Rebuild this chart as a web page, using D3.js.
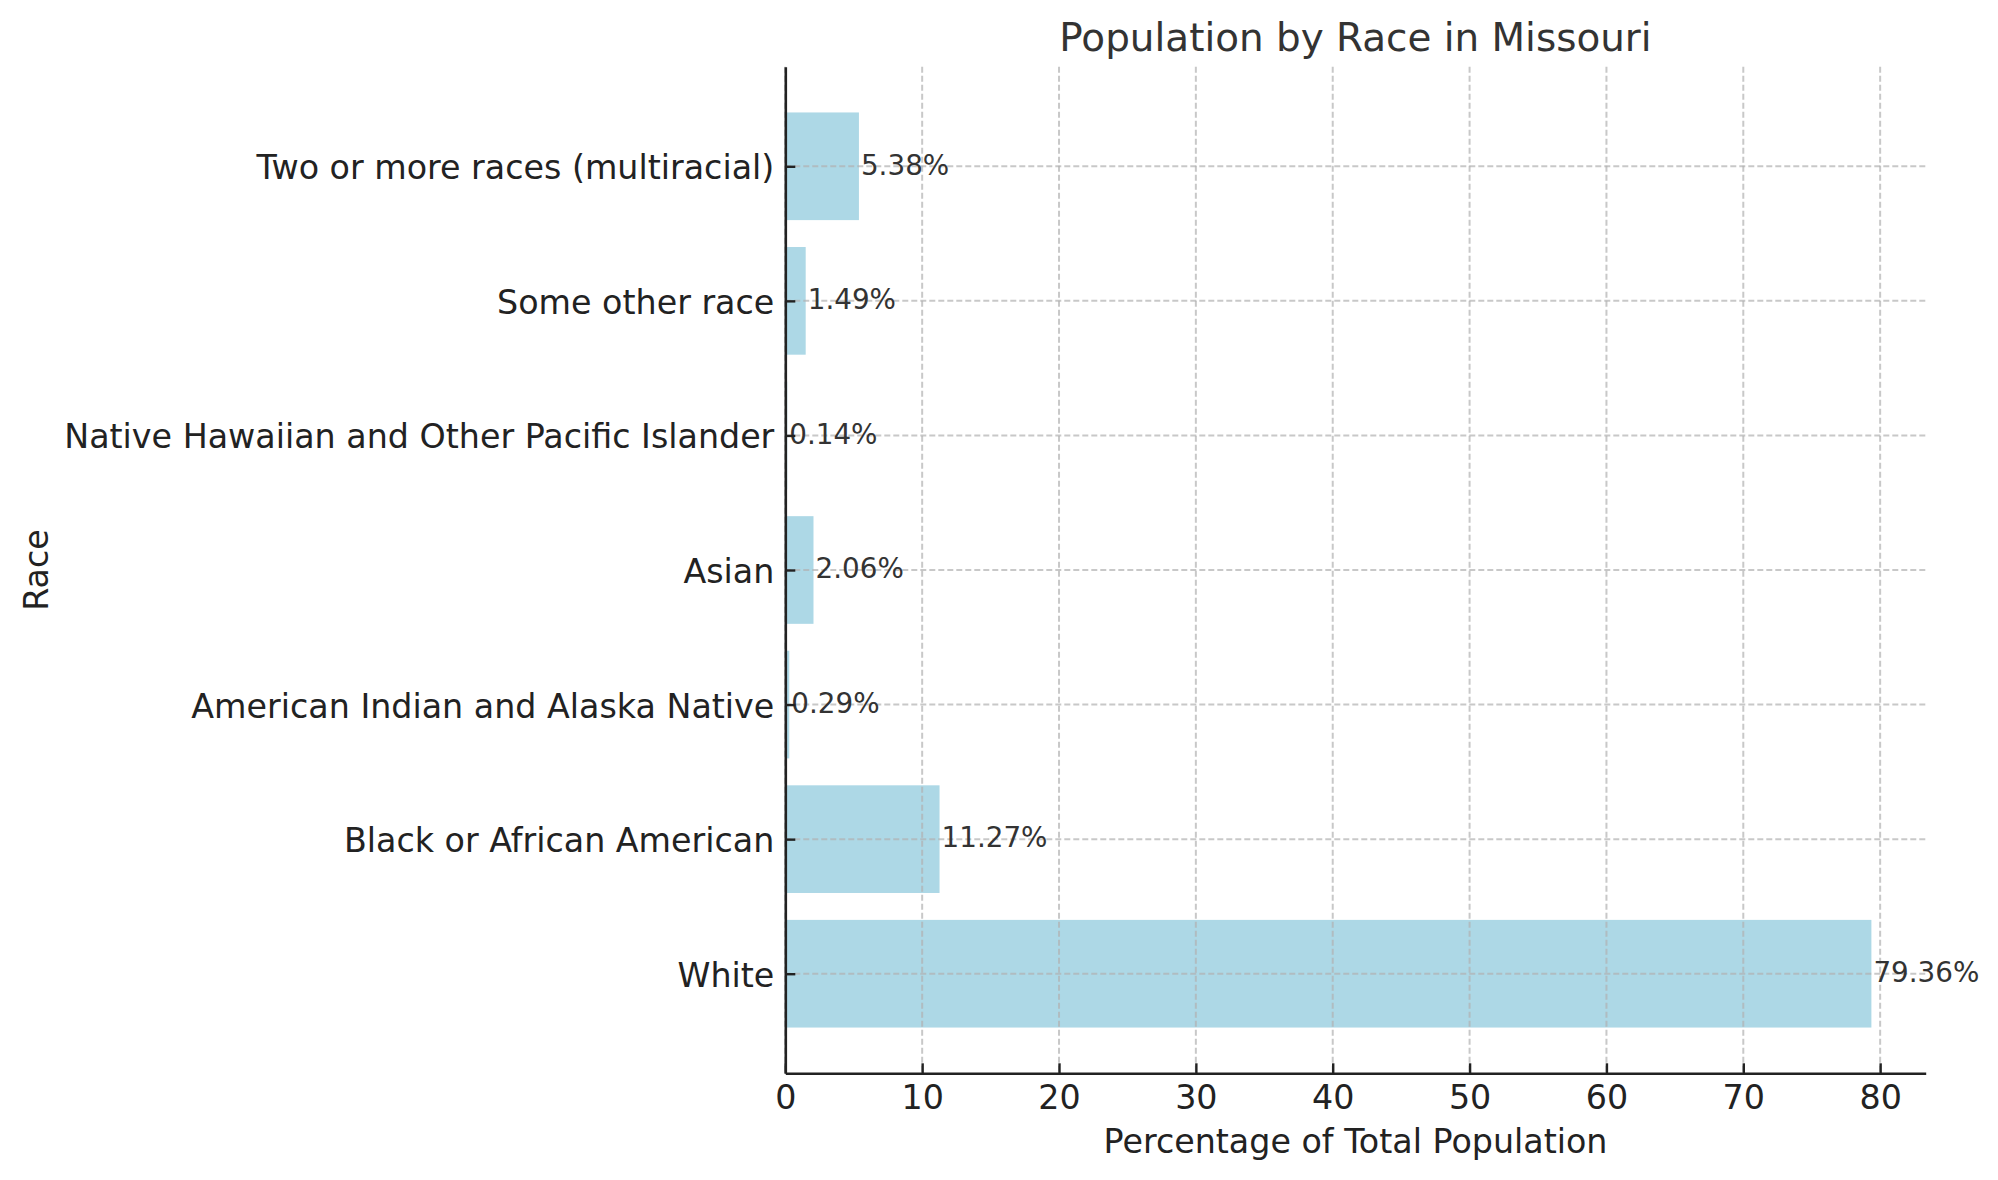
<!DOCTYPE html>
<html>
<head>
<meta charset="utf-8">
<script src="https://cdn.jsdelivr.net/npm/d3@7"></script>
<style>
    body { margin: 0; background: #fff; }
    #bar-chart { width: 1998px; height: 1180px; }
    text { font-family: "DejaVu Sans", sans-serif; }
</style>
</head>
<body>
<div id="bar-chart"></div>
<script>
// data (bottom to top)
const categories = [
    "White",
    "Black or African American",
    "American Indian and Alaska Native",
    "Asian",
    "Native Hawaiian and Other Pacific Islander",
    "Some other race",
    "Two or more races (multiracial)"
];
const percentages = [79.36, 11.27, 0.29, 2.06, 0.14, 1.49, 5.38];
const xTickValues = [0, 10, 20, 30, 40, 50, 60, 70, 80];

const chartTitle = "Population by Race in Missouri";
const xLabel = "Percentage of Total Population";
const yLabel = "Race";

let barSvg, barXScale, barYScale;

function drawBarChart() {
    const container = d3.select("#bar-chart");
    container.selectAll("*").remove();

    const width = 1998, height = 1180;
    const margin = { top: 66.7, right: 72.3, bottom: 106.7, left: 785.3 };
    const innerWidth = width - margin.left - margin.right;
    const innerHeight = height - margin.top - margin.bottom;

    barSvg = container.append("svg")
        .attr("width", width)
        .attr("height", height)
        .append("g")
        .attr("transform", `translate(${margin.left},${margin.top})`);

    // matplotlib-like limits: 5% pad on the right, categories padded too
    barXScale = d3.scaleLinear()
        .domain([0, d3.max(percentages) * 1.05])
        .range([0, innerWidth]);

    const barH = 0.8;
    const pad = (categories.length - 1 + barH) * 0.05;
    barYScale = d3.scaleLinear()
        .domain([-barH / 2 - pad, categories.length - 1 + barH / 2 + pad])
        .range([innerHeight, 0]);

    // bars
    barSvg.selectAll(".bar")
        .data(percentages)
        .enter().append("rect")
        .attr("class", "bar")
        .attr("x", barXScale(0))
        .attr("y", (d, i) => barYScale(i + barH / 2))
        .attr("width", d => barXScale(d) - barXScale(0))
        .attr("height", barYScale(0) - barYScale(barH))
        .attr("fill", "#add8e6");

    // dashed grid, drawn on top of bars
    const grid = barSvg.append("g").attr("class", "grid")
        .attr("stroke", "#b0b0b0")
        .attr("stroke-opacity", 0.7)
        .attr("stroke-width", 2)
        .attr("stroke-dasharray", "6,3");
    grid.selectAll(".vgrid")
        .data(xTickValues)
        .enter().append("line")
        .attr("x1", d => barXScale(d)).attr("x2", d => barXScale(d))
        .attr("y1", 0).attr("y2", innerHeight);
    grid.selectAll(".hgrid")
        .data(categories)
        .enter().append("line")
        .attr("x1", 0).attr("x2", innerWidth)
        .attr("y1", (d, i) => barYScale(i)).attr("y2", (d, i) => barYScale(i));

    // value labels
    barSvg.selectAll(".bar-label")
        .data(percentages)
        .enter().append("text")
        .attr("class", "bar-label")
        .attr("x", d => barXScale(d) + 2)
        .attr("y", (d, i) => barYScale(i) + 8.3)
        .style("font-size", "27.8px")
        .attr("fill", "#333")
        .text(d => d.toFixed(2) + "%");

    // x axis (ticks pointing in)
    const xAxis = barSvg.append("g")
        .attr("class", "x-axis")
        .attr("transform", `translate(0,${innerHeight})`)
        .call(d3.axisBottom(barXScale).tickValues(xTickValues).tickSizeInner(-10).tickSizeOuter(0).tickPadding(0));
    xAxis.select(".domain").attr("stroke", "#222").attr("stroke-width", 2.6);
    xAxis.selectAll(".tick line").attr("stroke", "#222").attr("stroke-width", 2.4);
    xAxis.selectAll(".tick text")
        .attr("y", 36)
        .attr("dy", null)
        .style("font-size", "33.3px")
        .style("font-family", "DejaVu Sans")
        .attr("fill", "#222");

    // y axis
    const yAxis = barSvg.append("g")
        .attr("class", "y-axis")
        .call(d3.axisLeft(barYScale).tickValues(d3.range(categories.length))
            .tickFormat(i => categories[i]).tickSizeInner(-10).tickSizeOuter(0));
    yAxis.select(".domain").attr("stroke", "#222").attr("stroke-width", 2.6);
    yAxis.selectAll(".tick line").attr("stroke", "#222").attr("stroke-width", 2.4);
    yAxis.selectAll(".tick text")
        .attr("x", -11)
        .attr("dy", null)
        .attr("y", 12.5)
        .style("font-size", "33.3px")
        .style("font-family", "DejaVu Sans")
        .attr("fill", "#222");

    // axis labels and title
    barSvg.append("text")
        .attr("class", "x-axis-label")
        .attr("text-anchor", "middle")
        .attr("x", innerWidth / 2)
        .attr("y", 1153.3 - margin.top)
        .style("font-size", "33.3px")
        .attr("fill", "#222")
        .text(xLabel);

    barSvg.append("text")
        .attr("class", "y-axis-label")
        .attr("text-anchor", "middle")
        .attr("transform", "rotate(-90)")
        .attr("x", -innerHeight / 2)
        .attr("y", 48.3 - margin.left)
        .style("font-size", "33.3px")
        .attr("fill", "#222")
        .text(yLabel);

    barSvg.append("text")
        .attr("class", "chart-title")
        .attr("text-anchor", "middle")
        .attr("x", innerWidth / 2)
        .attr("y", 50.7 - margin.top)
        .style("font-size", "38.9px")
        .attr("fill", "#333")
        .text(chartTitle);
}

drawBarChart();
</script>
</body>
</html>
